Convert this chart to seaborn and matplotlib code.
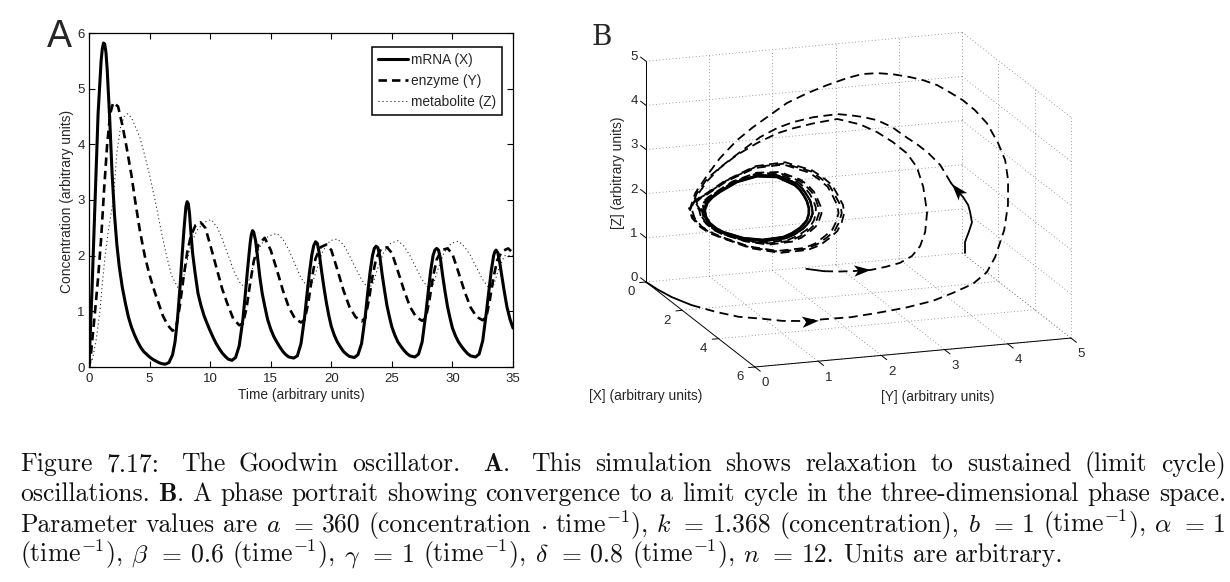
import numpy as np
import pandas as pd
import matplotlib
matplotlib.use("Agg")
import matplotlib.pyplot as plt
import seaborn as sns
from matplotlib.markers import MarkerStyle
from matplotlib.path import Path
from matplotlib.transforms import Affine2D
from mpl_toolkits.mplot3d import proj3d

W, H = 1230, 582

# Time courses of the three species
t_x = [0, .1, .25, .5, .75, 1, 1.1, 1.2, 1.3, 1.4, 1.5, 1.7, 1.9, 2.1, 2.3, 2.5, 2.75, 3, 3.25, 3.5, 3.75, 4, 4.25, 4.5,
       4.75, 5, 5.25, 5.5, 5.75, 6, 6.3,
       6.6, 6.9, 7.1, 7.3, 7.5, 7.7, 7.85, 8, 8.1, 8.2, 8.3, 8.4, 8.55, 8.75, 9, 9.25, 9.5, 9.75, 10, 10.25, 10.5,
       10.75, 11, 11.25, 11.5, 11.8,
       12.1, 12.4, 12.7, 12.9, 13.1, 13.3, 13.4, 13.5, 13.6, 13.75, 13.9, 14.1, 14.3, 14.5, 14.75, 15, 15.25, 15.5,
       15.75, 16, 16.25, 16.5, 16.9,
       17.2, 17.5, 17.8, 18, 18.2, 18.4, 18.55, 18.7, 18.85, 19, 19.2, 19.4, 19.6, 19.8, 20, 20.25, 20.5, 20.75, 21,
       21.25, 21.5, 21.9,
       22.2, 22.5, 22.8, 23, 23.2, 23.4, 23.55, 23.7, 23.85, 24, 24.2, 24.4, 24.6, 24.8, 25, 25.25, 25.5, 25.75, 26,
       26.25, 26.5, 26.9,
       27.2, 27.5, 27.8, 28, 28.2, 28.4, 28.55, 28.7, 28.85, 29, 29.2, 29.4, 29.6, 29.8, 30, 30.25, 30.5, 30.75, 31,
       31.25, 31.5, 31.9,
       32.2, 32.5, 32.8, 33, 33.2, 33.4, 33.5, 33.6, 33.75, 33.9, 34.1, 34.3, 34.5, 34.75, 35]
mrna = [0, .55, 1.4, 3.0, 4.55, 5.5, 5.72, 5.82, 5.8, 5.65, 5.35, 4.5, 3.5, 2.75, 2.2, 1.8, 1.43, 1.15, .9, .72, .58,
        .46, .36, .28, .23, .18, .14, .11, .08, .06, .05,
        .08, .22, .45, .85, 1.4, 2.05, 2.5, 2.88, 2.97, 2.93, 2.75, 2.45, 2.05, 1.7, 1.32, 1.1, .92, .78, .65, .53,
        .42, .33, .25, .19, .14, .12,
        .17, .38, .85, 1.3, 1.78, 2.22, 2.38, 2.45, 2.42, 2.27, 2.0, 1.62, 1.32, 1.1, .85, .68, .55, .45, .36, .28,
        .22, .18, .16,
        .2, .42, .9, 1.32, 1.7, 2.02, 2.18, 2.25, 2.22, 2.05, 1.72, 1.42, 1.15, .92, .73, .57, .45, .36, .28, .23,
        .19, .17,
        .22, .42, .9, 1.32, 1.7, 2.0, 2.13, 2.17, 2.14, 2.0, 1.66, 1.37, 1.1, .9, .72, .57, .45, .37, .3, .24, .2, .18,
        .23, .45, .95, 1.35, 1.72, 2.0, 2.1, 2.13, 2.1, 1.96, 1.63, 1.34, 1.08, .88, .7, .56, .45, .37, .3, .24, .2,
        .18,
        .23, .47, .98, 1.35, 1.72, 2.0, 2.07, 2.1, 2.05, 1.88, 1.6, 1.33, 1.08, .86, .7]

t_y = [0, .15, .3, .5, .75, 1, 1.25, 1.5, 1.75, 2, 2.4, 2.75, 3.1, 3.5, 3.8, 4.2, 4.6, 5, 5.45, 6.1, 6.5, 6.9, 7.2, 7.5,
       7.8, 8.1, 8.4, 8.8, 9.2, 9.6, 10, 10.5, 11, 11.4, 11.9, 12.4, 12.7, 13, 13.3, 13.6, 14, 14.5, 15, 15.5, 16,
       16.5, 17, 17.5, 17.8, 18.1, 18.4, 18.7, 19.1, 19.6, 20, 20.5, 21, 21.5, 22, 22.5, 22.8, 23.1, 23.4, 23.7, 24.1,
       24.6, 25, 25.5, 26, 26.5, 27, 27.5, 27.8, 28.1, 28.4, 28.7, 29.1, 29.6, 30, 30.5, 31, 31.5, 32, 32.5, 32.8,
       33.1, 33.4, 33.7, 34.1, 34.6, 35]
enzyme = [0, .2, .55, 1.0, 1.6, 2.3, 3.2, 4.0, 4.55, 4.75, 4.68, 4.35, 3.95, 3.45, 3.0, 2.45, 2.0, 1.65, 1.33, .92, .75,
          .65, .72, 1.1, 1.6, 2.05, 2.35, 2.55, 2.6, 2.5, 2.2, 1.8, 1.4, 1.15, .87, .75, .78, 1.05, 1.5, 1.9, 2.2,
          2.32, 2.1, 1.75, 1.38, 1.07, .87, .8, .85, 1.15, 1.6, 1.95, 2.15, 2.2, 2.1, 1.75, 1.38, 1.08, .9, .82, .88,
          1.2, 1.62, 1.95, 2.12, 2.15, 2.05, 1.72, 1.38, 1.08, .9, .83, .88, 1.2, 1.62, 1.93, 2.1, 2.13, 2.03, 1.7,
          1.36, 1.07, .9, .84, .9, 1.22, 1.62, 1.92, 2.08, 2.13, 2.05]

t_z = [0, .3, .6, .9, 1.1, 1.33, 1.6, 2, 2.3, 2.6, 2.9, 3.2, 3.5, 3.8, 4.2, 4.6, 5, 5.45, 6, 6.4, 6.8, 7.35, 7.7, 8, 8.4,
       8.9, 9.5, 10.1, 10.6, 11, 11.5, 12, 12.5, 12.9, 13.3, 13.7, 14.2, 14.8, 15.5, 16, 16.5, 17, 17.5, 18, 18.4,
       18.8, 19.3, 19.9, 20.5, 21, 21.5, 22, 22.5, 23, 23.4, 23.8, 24.3, 24.9, 25.5, 26, 26.5, 27, 27.5, 28, 28.4,
       28.8, 29.3, 29.9, 30.5, 31, 31.5, 32, 32.5, 33, 33.4, 33.8, 34.3, 35]
metabolite = [0, .15, .5, 1.0, 1.5, 2.0, 2.45, 3.0, 3.85, 4.3, 4.5, 4.55, 4.48, 4.33, 4.13, 3.8, 3.45, 3.0, 2.4, 2.0,
              1.65, 1.42, 1.5, 1.8, 2.2, 2.45, 2.6, 2.65, 2.5, 2.3, 2.0, 1.7, 1.5, 1.43, 1.6, 1.95, 2.2, 2.35, 2.4,
              2.3, 2.1, 1.85, 1.6, 1.45, 1.48, 1.75, 2.08, 2.27, 2.3, 2.2, 2.0, 1.78, 1.57, 1.42, 1.47, 1.75, 2.05,
              2.22, 2.27, 2.17, 2.0, 1.78, 1.57, 1.42, 1.47, 1.75, 2.05, 2.22, 2.26, 2.16, 2.0, 1.78, 1.57, 1.42,
              1.47, 1.75, 2.0, 2.0]

x_ticks_a = [0, 5, 10, 15, 20, 25, 30, 35]
y_ticks_a = [0, 1, 2, 3, 4, 5, 6]

# Phase-space trajectories, (X, Y, Z) per point
path1_x = [0, .55, 1.1, 2.2, 3.3, 3.85, 4.4, 4.95, 5.5, 5.5, 5.5, 5.78, 5.8, 5.5, 5.5, 5.5, 5.5, 4.95, 4.4, 3.85, 3.85,
           3.3, 3.0, 2.75, 2.2, 1.65, 1.65, 1.1, 1.1, .825, .55, .55, .275, .275, .275, .275, .275, .275, .275, .275,
           .275, .275, .275, .275, .275]
path1_y = [0, .03, .09, .09, .16, .36, .59, .74, .92, 1.01, 1.23, 1.58, 2.00, 2.52, 2.96, 3.28, 3.59, 3.97, 4.26, 4.56,
           4.62, 4.78, 4.82, 4.78, 4.76, 4.73, 4.54, 4.49, 4.29, 4.15, 4.02, 3.75, 3.58, 3.34, 3.10, 2.78, 2.47, 2.15,
           1.88, 1.61, 1.36, 1.09, .89, .70, .62]
path1_z = [0, 0, 0, .17, .36, .40, .50, .61, .76, .76, .76, .85, .90, .85, .95, 1.09, 1.25, 1.29, 1.42, 1.81, 2.37,
           2.74, 3.09, 3.40, 3.68, 3.80, 4.05, 4.06, 4.25, 4.29, 4.29, 4.39, 4.35, 4.36, 4.30, 4.18, 4.04, 3.86, 3.62,
           3.38, 3.12, 2.75, 2.39, 2.01, 1.68]

path2_x = [1.1] * 28
path2_y = [2.22, 2.50, 2.75, 2.99, 3.10, 3.23, 3.47, 3.70, 3.89, 4.02, 4.10, 4.13, 4.07, 3.97, 3.81, 3.59, 3.34, 3.07,
           2.71, 2.33, 2.01, 1.76, 1.44, 1.12, .85, .65, .49, .40]
path2_z = [.36, .27, .23, .21, .21, .20, .24, .30, .43, .64, .95, 1.39, 1.97, 2.43, 2.77, 3.05, 3.31, 3.52, 3.69, 3.64,
           3.57, 3.49, 3.31, 3.08, 2.82, 2.55, 2.24, 1.98]

path3_x = [1.1] * 27
path3_y = [4.73, 4.73, 4.79, 4.84, 4.81, 4.78, 4.70, 4.60, 4.51, 4.34, 4.15, 3.99, 3.75, 3.58, 3.34, 3.12, 2.91, 2.71,
           2.33, 2.01, 1.76, 1.49, 1.17, .90, .66, .49, .38]
path3_z = [.39, .64, .86, 1.07, 1.31, 1.47, 1.66, 1.83, 2.00, 2.43, 2.73, 2.93, 3.19, 3.39, 3.58, 3.68, 3.75, 3.80,
           3.78, 3.71, 3.61, 3.44, 3.14, 2.88, 2.62, 2.30, 1.93]

# Successive turns of the spiral onto the limit cycle
turn_x = [.275] * 9 + [1.1] * 15
turn_a_y = [.60, .65, .78, .93, 1.12, 1.57, 2.04, 2.48, 2.67, 2.59, 2.71, 2.78, 2.82, 2.80, 2.72, 2.63, 2.48, 2.31,
            1.88, 1.41, .93, .62, .52, .44]
turn_a_z = [1.68, 1.45, 1.23, 1.07, .94, .65, .48, .49, .57, 1.01, 1.15, 1.34, 1.55, 1.73, 1.96, 2.20, 2.40, 2.58,
            2.82, 2.79, 2.52, 2.26, 2.19, 2.10]
turn_b_y = [.62, .67, .79, .94, 1.12, 1.56, 2.02, 2.45, 2.63, 2.55, 2.67, 2.74, 2.78, 2.76, 2.68, 2.59, 2.45, 2.29,
            1.87, 1.41, .95, .64, .54, .46]
turn_b_z = [1.67, 1.45, 1.24, 1.08, .95, .67, .51, .52, .60, 1.03, 1.17, 1.35, 1.55, 1.73, 1.95, 2.19, 2.38, 2.56,
            2.79, 2.77, 2.52, 2.26, 2.19, 2.10]
turn_c_y = [.64, .69, .80, .95, 1.12, 1.55, 2.00, 2.42, 2.60, 2.51, 2.63, 2.69, 2.73, 2.71, 2.64, 2.56, 2.42, 2.27,
            1.86, 1.41, .96, .66, .56, .48]
turn_c_z = [1.67, 1.45, 1.24, 1.09, .96, .69, .53, .54, .62, 1.06, 1.19, 1.36, 1.56, 1.73, 1.95, 2.17, 2.36, 2.53,
            2.77, 2.75, 2.51, 2.26, 2.19, 2.10]
turn_d_y = [.76, .79, .88, .99, 1.13, 1.50, 1.86, 2.23, 2.38, 2.28, 2.37, 2.42, 2.46, 2.45, 2.40, 2.34, 2.25, 2.13,
            1.80, 1.43, 1.05, .77, .66, .58]
turn_d_z = [1.63, 1.45, 1.28, 1.14, 1.02, .81, .69, .71, .78, 1.20, 1.30, 1.42, 1.58, 1.73, 1.91, 2.09, 2.24, 2.39,
            2.61, 2.64, 2.49, 2.27, 2.18, 2.08]
turn_e_y = [.78, .81, .89, 1.00, 1.13, 1.49, 1.85, 2.20, 2.35, 2.25, 2.33, 2.38, 2.42, 2.41, 2.37, 2.31, 2.22, 2.12,
            1.79, 1.43, 1.07, .79, .68, .60]
turn_e_z = [1.62, 1.45, 1.28, 1.14, 1.03, .82, .72, .73, .81, 1.22, 1.32, 1.43, 1.59, 1.73, 1.91, 2.08, 2.23, 2.36,
            2.59, 2.62, 2.48, 2.27, 2.18, 2.08]
turn_f_y = [.80, .83, .90, 1.01, 1.14, 1.48, 1.82, 2.17, 2.32, 2.22, 2.29, 2.34, 2.37, 2.37, 2.33, 2.27, 2.19, 2.09,
            1.78, 1.43, 1.08, .80, .70, .62]
turn_f_z = [1.62, 1.45, 1.29, 1.15, 1.04, .84, .74, .76, .83, 1.24, 1.33, 1.44, 1.59, 1.73, 1.90, 2.06, 2.21, 2.34,
            2.56, 2.61, 2.48, 2.28, 2.18, 2.08]
turn_g_y = [.83, .85, .92, 1.02, 1.14, 1.47, 1.80, 2.13, 2.27, 2.16, 2.23, 2.28, 2.32, 2.31, 2.28, 2.22, 2.16, 2.07,
            1.77, 1.44, 1.10, .83, .72, .64]
turn_g_z = [1.61, 1.45, 1.29, 1.16, 1.06, .87, .78, .80, .87, 1.27, 1.36, 1.45, 1.60, 1.73, 1.90, 2.05, 2.18, 2.31,
            2.53, 2.58, 2.47, 2.28, 2.18, 2.07]
cycle_y = [.85, .87, .93, 1.03, 1.14, 1.46, 1.77, 2.09, 2.23, 2.12, 2.18, 2.23, 2.26, 2.26, 2.23, 2.18, 2.12, 2.04,
           1.76, 1.44, 1.12, .85, .74, .66]
cycle_z = [1.60, 1.45, 1.30, 1.17, 1.07, .89, .81, .83, .90, 1.30, 1.38, 1.46, 1.60, 1.73, 1.89, 2.03, 2.16, 2.28,
           2.50, 2.56, 2.47, 2.28, 2.18, 2.07]

x_ticks_b = [0, 2, 4, 6]
y_ticks_b = [0, 1, 2, 3, 4, 5]
z_ticks_b = [0, 1, 2, 3, 4, 5]

caption = [
    (r"Figure 7.17:  The Goodwin oscillator.  $\mathbf{A.}$  This simulation shows relaxation to sustained (limit cycle)", True),
    (r"oscillations. $\mathbf{B.}$ A phase portrait showing convergence to a limit cycle in the three-dimensional phase space.", True),
    (r"Parameter values are $a$ $=$ 360 (concentration $\cdot$ time$^{-1}$), $k$ $=$ 1.368 (concentration), $b$ $=$ 1 (time$^{-1}$), $\alpha$ $=$ 1", True),
    (r"(time$^{-1}$), $\beta$ $=$ 0.6 (time$^{-1}$), $\gamma$ $=$ 1 (time$^{-1}$), $\delta$ $=$ 0.8 (time$^{-1}$), $n$ $=$ 12. Units are arbitrary.", False),
]

sns.set_style("white")
plt.rcParams["font.family"] = ["Liberation Sans", "DejaVu Sans"]
plt.rcParams["mathtext.fontset"] = "cm"

fig = plt.figure(figsize=(W / 100, H / 100), dpi=100, facecolor="white")
label_size = 9.9
tick_size = 9.5


def fx(px):
    return px / W


def fy(py):
    return 1 - py / H


# Panel A: time courses
ax = fig.add_axes([fx(89), fy(367), 424 / W, 334 / H])
frames = [pd.DataFrame({"t": t_x, "c": mrna}), pd.DataFrame({"t": t_y, "c": enzyme}),
          pd.DataFrame({"t": t_z, "c": metabolite})]
sns.lineplot(data=frames[2], x="t", y="c", ax=ax, color="#222222", lw=0.75, linestyle=(0, (1.1, 2.7)),
             sort=False, estimator=None, errorbar=None, label="metabolite (Z)")
sns.lineplot(data=frames[1], x="t", y="c", ax=ax, color="black", lw=1.9, linestyle=(0, (3.2, 1.9)),
             sort=False, estimator=None, errorbar=None, label="enzyme (Y)")
sns.lineplot(data=frames[0], x="t", y="c", ax=ax, color="black", lw=2.2, linestyle="-",
             sort=False, estimator=None, errorbar=None, label="mRNA (X)")
ax.set_xlim(0, 35)
ax.set_ylim(0, 6)
ax.set_xticks(x_ticks_a)
ax.set_yticks(y_ticks_a)
ax.tick_params(direction="in", top=True, right=True, length=4, width=0.8, labelsize=tick_size, color="black",
               bottom=True, left=True)
ax.tick_params(axis="x", pad=4)
ax.tick_params(axis="y", pad=3)
for s in ax.spines.values():
    s.set_visible(True)
    s.set_color("black")
    s.set_linewidth(0.9)
ax.set_xlabel("")
ax.set_ylabel("")
handles, labels = ax.get_legend_handles_labels()
leg = ax.legend(handles[::-1], labels[::-1], loc="upper right", bbox_to_anchor=((502 - 89) / 424, (367 - 47) / 334),
                fontsize=label_size, frameon=True, fancybox=False, edgecolor="black", framealpha=1, handlelength=2.2,
                handletextpad=0.2, labelspacing=0.5, borderpad=0.45, borderaxespad=0)
leg.get_frame().set_linewidth(1.1)
fig.text(fx(301), fy(394.5), "Time (arbitrary units)", ha="center", va="center", fontsize=label_size)
fig.text(fx(67), fy(201), "Concentration (arbitrary units)", ha="center", va="center", rotation=90,
         fontsize=label_size)
fig.text(fx(47), fy(47), "A", fontsize=27, ha="left", va="baseline")
fig.text(fx(591), fy(45), "B", fontsize=20, ha="left", va="baseline", family="DejaVu Serif")

# Panel B: phase portrait
ax3 = fig.add_axes([0.5, 0.1, 500 / W, 500 / H], projection="3d")
ax3.set_proj_type("ortho")
ax3.view_init(elev=15.5, azim=-18.9)
ax3.set_box_aspect((336, 334, 229))
ax3.set_xlim(0, 6, view_margin=0)
ax3.set_ylim(0, 5, view_margin=0)
ax3.set_zlim(0, 5, view_margin=0)
ax3.set_axis_off()
ax3.patch.set_alpha(0)
ax3.computed_zorder = False


def to_px(x, y, z):
    xp, yp, _ = proj3d.proj_transform(x, y, z, ax3.get_proj())
    return ax3.transData.transform((xp, yp))


def cube_label(x, y, z, text):
    u, v = to_px(x, y, z)
    fig.text(u / W, v / H, text, fontsize=tick_size, ha="center", va="center")


# Place and scale the cube so its floor corners sit where the panel needs them
size = 500.0
fig.canvas.draw()
span = to_px(6, 5, 0)[0] - to_px(0, 0, 0)[0]
size *= 425 / span
ax3.set_position([0.5, 0.1, size / W, size / H])
fig.canvas.draw()
o = to_px(0, 0, 0)
ax3.set_position([0.5 + (646 - o[0]) / W, 0.1 + (H - 282 - o[1]) / H, size / W, size / H])
fig.canvas.draw()

grid_style = dict(color="#7c7c7c", lw=0.6, linestyle=(0, (1, 3)), zorder=1)
for yt in y_ticks_b[1:]:
    ax3.plot([0, 0], [yt, yt], [0, 5], **grid_style)
    ax3.plot([0, 6], [yt, yt], [0, 0], **grid_style)
for xt in x_ticks_b[1:]:
    ax3.plot([xt, xt], [5, 5], [0, 5], **grid_style)
    ax3.plot([xt, xt], [0, 5], [0, 0], **grid_style)
for zt in z_ticks_b:
    ax3.plot([0, 0], [0, 5], [zt, zt], **grid_style)
    ax3.plot([0, 6], [5, 5], [zt, zt], **grid_style)

axis_style = dict(color="black", lw=0.7, zorder=2)
ax3.plot([0, 0], [0, 0], [0, 5], **axis_style)
ax3.plot([0, 6], [0, 0], [0, 0], **axis_style)
ax3.plot([6, 6], [0, 5], [0, 0], **axis_style)
for zt in z_ticks_b:
    ax3.plot([0, -.3], [0, 0], [zt, zt], **axis_style)
    cube_label(-.66, 0, zt - .12, str(zt))
for xt in x_ticks_b:
    ax3.plot([xt, xt], [0, -.1], [0, 0], **axis_style)
    cube_label(xt, -.24, -.2, str(xt))
for yt in y_ticks_b:
    ax3.plot([6, 6.3], [yt, yt], [0, 0], **axis_style)
    cube_label(6.7, yt - .04, -.14, str(yt))

run_1 = (path1_x + turn_x + turn_x + turn_x + turn_x,
         path1_y + turn_a_y + turn_d_y + turn_g_y + cycle_y,
         path1_z + turn_a_z + turn_d_z + turn_g_z + cycle_z)
run_2 = (path2_x + turn_x + turn_x + turn_x,
         path2_y + turn_c_y + turn_f_y + cycle_y,
         path2_z + turn_c_z + turn_f_z + cycle_z)
run_3 = (path3_x + turn_x + turn_x + turn_x,
         path3_y + turn_b_y + turn_e_y + turn_g_y,
         path3_z + turn_b_z + turn_e_z + turn_g_z)

dash = (0, (5.0, 3.0))
for run, solid_end in ((run_1, 3), (run_2, 1), (run_3, 8)):
    xs, ys, zs = run
    ax3.plot(xs[:solid_end + 1], ys[:solid_end + 1], zs[:solid_end + 1], color="black", lw=1.3, zorder=3,
             solid_capstyle="round")
    ax3.plot(xs[solid_end:], ys[solid_end:], zs[solid_end:], color="black", lw=1.3, linestyle=dash, zorder=3)

# The settled orbit: closely spaced passes merge into one heavy band
closed_x = turn_x + turn_x[:1]
for band_y, band_z, band_w in ((turn_g_y, turn_g_z, 1.5), (cycle_y, cycle_z, 1.9)):
    ax3.plot(closed_x, band_y + band_y[:1], band_z + band_z[:1], color="black", lw=band_w, zorder=3)

head = Path([(1, 0), (-1, .68), (-.5, 0), (-1, -.68), (1, 0)],
            [Path.MOVETO, Path.LINETO, Path.LINETO, Path.LINETO, Path.CLOSEPOLY])
for run, i in ((run_1, 9), (run_2, 4), (run_3, 7)):
    xs, ys, zs = run
    a = to_px(xs[i - 1], ys[i - 1], zs[i - 1])
    b = to_px(xs[i + 1], ys[i + 1], zs[i + 1])
    angle = np.degrees(np.arctan2(b[1] - a[1], b[0] - a[0]))
    ax3.plot([xs[i]], [ys[i]], [zs[i]], linestyle="none", color="black", markersize=12, markeredgewidth=0,
             marker=MarkerStyle(head, transform=Affine2D().rotate_deg(angle)), zorder=4)

fig.text(fx(646), fy(396), "[X] (arbitrary units)", ha="center", va="center", fontsize=label_size)
fig.text(fx(938), fy(397), "[Y] (arbitrary units)", ha="center", va="center", fontsize=label_size)
fig.text(fx(618), fy(173), "[Z] (arbitrary units)", ha="center", va="center", rotation=90, fontsize=label_size)

# Caption, set word by word so the full lines reach both margins
left, right = 20, 1226
baselines = [471, 501, 532, 562]
size_pt = 18.5
renderer = fig.canvas.get_renderer()
for (line, justify), base in zip(caption, baselines):
    words, weights = [], []
    for part in line.split("  "):
        chunk = part.split(" ")
        for j, word in enumerate(chunk):
            words.append(word)
            weights.append(1.0 if j < len(chunk) - 1 else 1.6)
    weights = weights[:-1]
    artists = [fig.text(0.5, fy(base), w, fontsize=size_pt, family="cmr10", va="baseline", ha="left", color="#111111")
               for w in words]
    widths = [a.get_window_extent(renderer).width for a in artists]
    natural = size_pt * 100 / 72 * 0.333
    unit = (right - left - sum(widths)) / sum(weights) if justify else natural
    pos = left
    for k, a in enumerate(artists):
        a.set_x(fx(pos))
        pos += widths[k] + (unit * weights[k] if k < len(weights) else 0)

fig.savefig("out.png", dpi=100)
